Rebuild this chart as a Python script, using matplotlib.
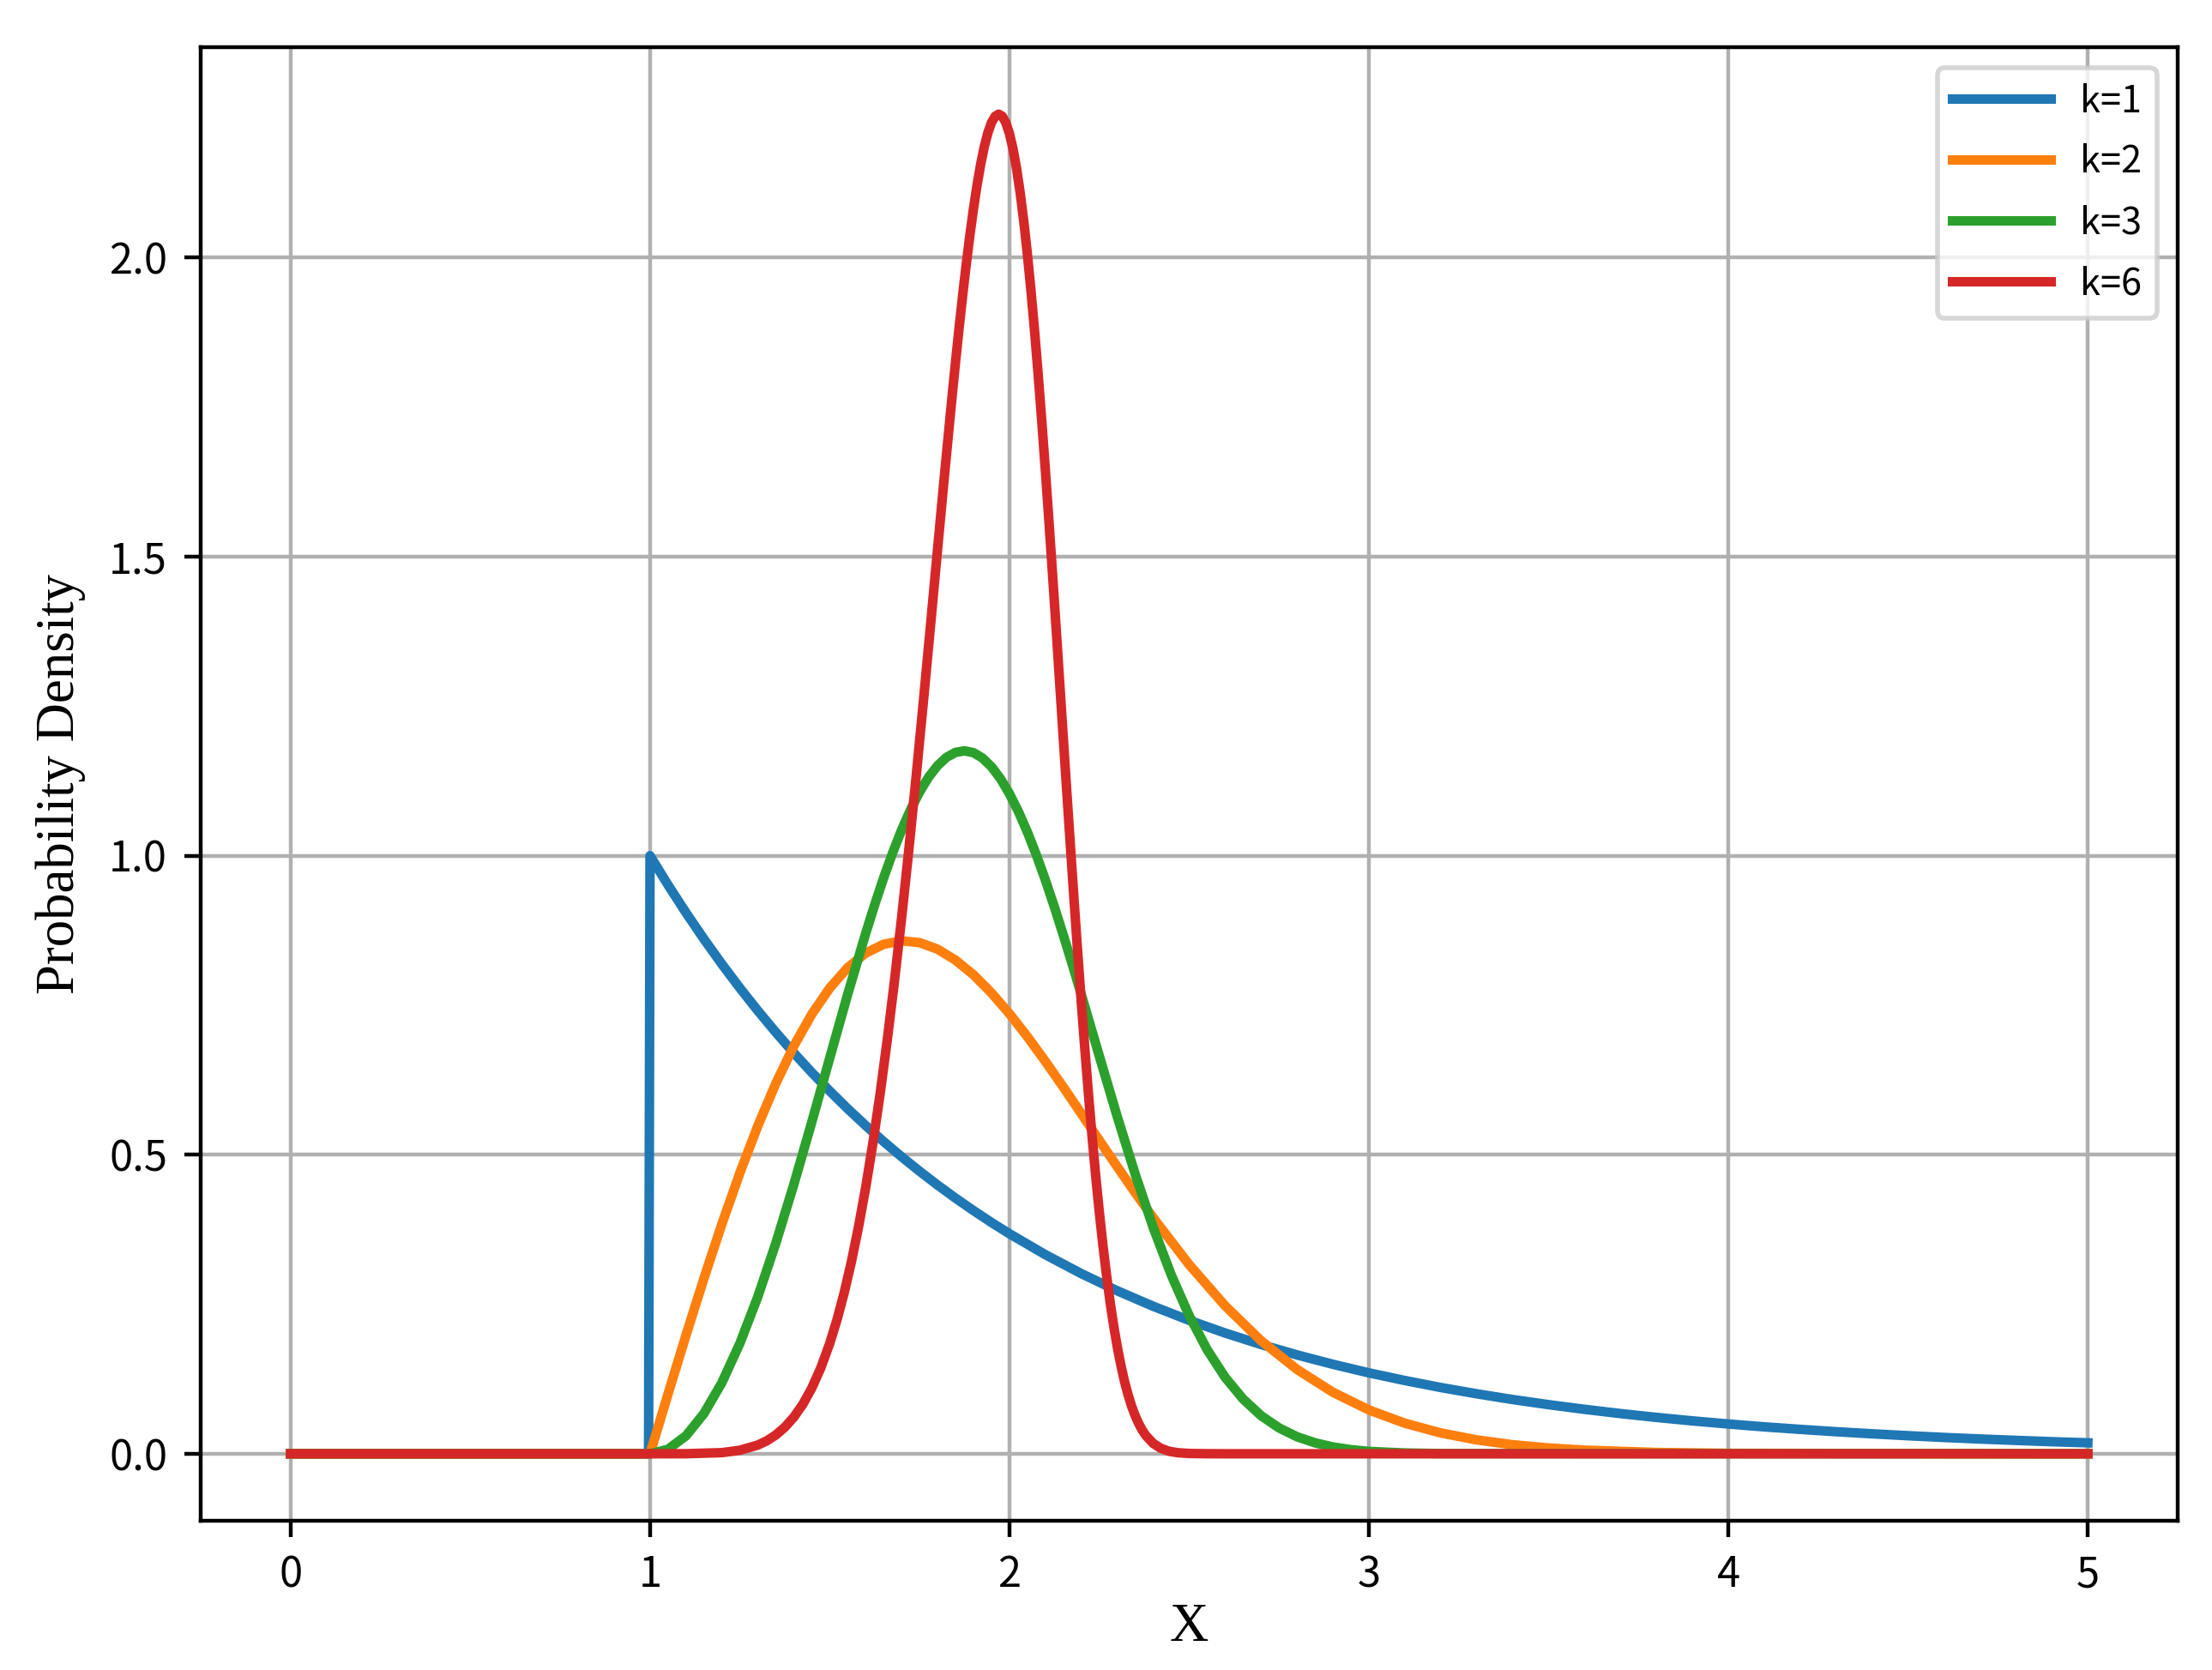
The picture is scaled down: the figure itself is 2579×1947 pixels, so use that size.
import matplotlib
matplotlib.use("Agg")
import matplotlib.pyplot as plt

plt.rcParams['font.family'] = ['Noto Sans CJK SC', 'DejaVu Sans']
plt.rcParams['axes.unicode_minus'] = False

# ---- data ----
labels = ["k=1", "k=2", "k=3", "k=6"]
colors = ["#1f77b4", "#ff7f0e", "#2ca02c", "#d62728"]

x_k1 = [0.0, 0.996, 1.0, 1.05, 1.1, 1.15, 1.2, 1.25, 1.3, 1.35, 1.4, 1.45,
        1.5, 1.55, 1.6, 1.65, 1.7, 1.75, 1.8, 1.85, 1.9, 1.95, 2.0,
        2.1, 2.2, 2.3, 2.4, 2.5, 2.6, 2.7, 2.8, 2.9, 3.0, 3.1, 3.2, 3.3, 3.4,
        3.5, 3.6, 3.7, 3.8, 3.9, 4.0, 4.1, 4.2, 4.3, 4.4, 4.5, 4.6, 4.7, 4.8,
        4.9, 5.0]
y_k1 = [0.0, 0.0, 1.0000, 0.9512, 0.9048, 0.8607, 0.8187, 0.7788, 0.7408,
        0.7047, 0.6703, 0.6376, 0.6065, 0.5769, 0.5488, 0.5220, 0.4966, 0.4724,
        0.4493, 0.4274, 0.4066, 0.3867, 0.3679,
        0.3329, 0.3012, 0.2725, 0.2466, 0.2231,
        0.2019, 0.1827, 0.1653, 0.1496, 0.1353, 0.1225, 0.1108, 0.1003, 0.0907,
        0.0821, 0.0743, 0.0672, 0.0608, 0.0550, 0.0498, 0.0450, 0.0408, 0.0369,
        0.0334, 0.0302, 0.0273, 0.0247, 0.0224, 0.0202, 0.0183]

x_k2 = [0.0, 1.0, 1.05, 1.1, 1.15, 1.2, 1.25, 1.3, 1.35, 1.4, 1.45, 1.5, 1.55,
        1.6, 1.65, 1.7, 1.75, 1.8, 1.85, 1.9, 1.95, 2.0, 2.05, 2.1, 2.15, 2.2,
        2.25, 2.3, 2.35, 2.4, 2.5, 2.6, 2.7, 2.8, 2.9, 3.0, 3.1, 3.2, 3.3, 3.4,
        3.5, 3.6, 3.8, 4.0, 5.0]
y_k2 = [0.0, 0.0, 0.0998, 0.1980, 0.2933, 0.3843, 0.4697, 0.5484, 0.6193,
        0.6817, 0.7350, 0.7788, 0.8129, 0.8372, 0.8520, 0.8577, 0.8547, 0.8437,
        0.8254, 0.8008, 0.7705, 0.7358, 0.6973, 0.6560, 0.6129, 0.5686, 0.5240,
        0.4798, 0.4364, 0.3944, 0.3162, 0.2474, 0.1890, 0.1410, 0.1028, 0.0733,
        0.0511, 0.0348, 0.0232, 0.0151, 0.0097, 0.0060, 0.0022, 0.0007, 0.0]

x_k3 = [0.0, 1.0, 1.05, 1.1, 1.15, 1.2, 1.25, 1.3, 1.35, 1.4, 1.45, 1.5, 1.55,
        1.6, 1.625, 1.65, 1.675, 1.7, 1.725, 1.75, 1.775, 1.8, 1.825, 1.85,
        1.875, 1.9, 1.925, 1.95, 1.975, 2.0, 2.025, 2.05, 2.075, 2.1, 2.125,
        2.15, 2.175, 2.2, 2.25, 2.3, 2.35, 2.4, 2.45, 2.5, 2.55, 2.6, 2.65, 2.7,
        2.75, 2.8, 2.85, 2.9, 2.95, 3.0, 3.1, 3.2, 5.0]
y_k3 = [0.0, 0.0, 0.0075, 0.0300, 0.0673, 0.1190, 0.1846, 0.2628, 0.3521,
        0.4502, 0.5546, 0.6619, 0.7684, 0.8702, 0.9180, 0.9631, 1.0050, 1.0432,
        1.0772, 1.1067, 1.1313, 1.1507, 1.1646, 1.1728, 1.1754, 1.1723, 1.1633,
        1.1487, 1.1288, 1.1036, 1.0737, 1.0393, 1.0010, 0.9591, 0.9142, 0.8669,
        0.8178, 0.7674, 0.6649, 0.5635, 0.4670, 0.3781, 0.2991, 0.2310, 0.1740,
        0.1278, 0.0915, 0.0637, 0.0432, 0.0285, 0.0183, 0.0114, 0.0069, 0.0040,
        0.0013, 0.0003, 0.0]

x_k6 = [0.0, 1.0, 1.1, 1.2, 1.25, 1.3, 1.325, 1.35, 1.375, 1.4, 1.425, 1.45,
        1.475, 1.5, 1.52, 1.54, 1.56, 1.58, 1.6, 1.62, 1.64, 1.66, 1.68, 1.7,
        1.72, 1.74, 1.76, 1.78, 1.8, 1.82,
        1.84, 1.85, 1.86, 1.87, 1.88, 1.89, 1.90, 1.91, 1.92, 1.93, 1.94, 1.95,
        1.96, 1.97, 1.98, 1.99, 2.00, 2.01, 2.02, 2.03, 2.04, 2.05, 2.06, 2.07,
        2.08, 2.09, 2.10, 2.11, 2.12, 2.13, 2.14, 2.15, 2.16, 2.17, 2.18, 2.19,
        2.20, 2.21, 2.22, 2.23, 2.24, 2.25, 2.26, 2.27, 2.28, 2.29, 2.30, 2.31,
        2.32, 2.33, 2.34, 2.35, 2.36, 2.37, 2.38,
        2.4, 2.42, 2.44, 2.45, 2.47, 2.5, 2.55, 2.6, 5.0]
y_k6 = [0.0, 0.0, 0.0001, 0.0019, 0.0059, 0.0146, 0.0217, 0.0315, 0.0444,
        0.0612, 0.0827, 0.1098, 0.1434, 0.1846, 0.2237, 0.2688, 0.3204, 0.3791,
        0.4453, 0.5193, 0.6015, 0.6918, 0.7902, 0.8965, 1.0100, 1.1298, 1.2547,
        1.3830, 1.5127, 1.6413,
        1.7660, 1.8258, 1.8834, 1.9383, 1.9901, 2.0383, 2.0824, 2.1220, 2.1565,
        2.1857, 2.2089, 2.2260, 2.2364, 2.2400, 2.2365, 2.2256, 2.2073, 2.1815,
        2.1482, 2.1075, 2.0597, 2.0049, 1.9437, 1.8763, 1.8034, 1.7256, 1.6434,
        1.5576, 1.4690, 1.3784, 1.2865, 1.1942, 1.1024, 1.0117, 0.9229, 0.8367,
        0.7538, 0.6747, 0.5997, 0.5294, 0.4640, 0.4037, 0.3485, 0.2985, 0.2536,
        0.2137, 0.1785, 0.1478, 0.1212, 0.0985, 0.0793, 0.0632, 0.0499, 0.0389,
        0.0301,
        0.0173, 0.0095, 0.0050, 0.0035, 0.0017, 0.0005, 0.0001, 0.0, 0.0]

xs = [x_k1, x_k2, x_k3, x_k6]
ys = [y_k1, y_k2, y_k3, y_k6]

x_ticks = [0, 1, 2, 3, 4, 5]
y_ticks = [0.0, 0.5, 1.0, 1.5, 2.0]
y_tick_labels = ["0.0", "0.5", "1.0", "1.5", "2.0"]
x_label = "X"
y_label = "Probability Density"

# ---- figure ----
W, H, DPI = 2579, 1947, 400
fig = plt.figure(figsize=(W / DPI, H / DPI), dpi=DPI)
ax = fig.add_axes([234 / W, 1 - 1773 / H, 2305 / W, 1718 / H])

for x, y, lab, c in zip(xs, ys, labels, colors):
    ax.plot(x, y, color=c, lw=2, label=lab)

ax.grid(True, color="#b0b0b0", lw=0.8)
ax.set_xticks(x_ticks)
ax.set_yticks(y_ticks)
ax.set_yticklabels(y_tick_labels)
ax.tick_params(labelsize=8.8)

serif = {"family": ["Liberation Serif", "DejaVu Serif"], "size": 11.3}
ax.set_xlabel(x_label, fontdict=serif)
ax.set_ylabel(y_label, fontdict=serif)
ax.xaxis.set_label_coords(0.5, -0.056)
ax.yaxis.set_label_coords(-0.058, 0.5)

ax.legend(loc="upper right", fontsize=7.8, handlelength=2.65,
          labelspacing=0.62, borderaxespad=0.56)

fig.savefig("out.png", dpi=DPI)
